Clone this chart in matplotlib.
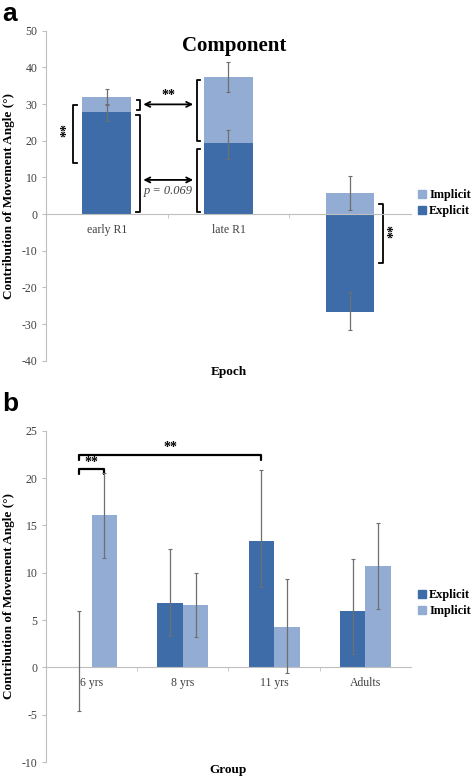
import numpy as np
import matplotlib
matplotlib.use('Agg')
import matplotlib.pyplot as plt
from matplotlib.patches import Patch

plt.rcParams['font.family'] = ['Liberation Serif', 'DejaVu Serif']
plt.rcParams['axes.unicode_minus'] = False

dark = '#3d6ca8'
light = '#93acd4'
grey = '#bfbfbf'
tick_col = '#404040'

# panel a: stacked components per epoch
epochs = ['early R1', 'late R1', 'R2']
explicit_a = [27.7, 19.3, -26.7]
implicit_a = [4.1, 18.1, 5.7]
explicit_a_err = [(25.3, 30.0), (15.0, 23.0), (-31.5, -21.3)]
total_a_err = [(29.6, 34.0), (33.3, 41.4), (1.0, 10.5)]

# panel b: components per age group
groups = ['6 yrs', '8 yrs', '11 yrs', 'Adults']
explicit_b = [-0.1, 6.76, 13.38, 5.95]
implicit_b = [16.05, 6.55, 4.3, 10.7]
explicit_b_err = [(-4.6, 6.0), (3.35, 12.5), (8.45, 20.8), (1.41, 11.45)]
implicit_b_err = [(11.5, 20.5), (3.17, 9.97), (-0.6, 9.3), (6.17, 15.2)]

fig = plt.figure(figsize=(4.74, 7.79), dpi=100)


def style_axes(ax, labels, ymin, ymax, step):
    for s in ['top', 'right']:
        ax.spines[s].set_visible(False)
    ax.spines['left'].set_color(grey)
    ax.spines['bottom'].set_color(grey)
    ax.spines['bottom'].set_position(('data', 0))
    ax.set_ylim(ymin, ymax)
    ax.set_yticks(np.arange(ymin, ymax + 1, step))
    ax.set_xlim(-0.5, len(labels) - 0.5)
    ax.set_xticks(range(len(labels)))
    ax.set_xticklabels(labels, fontsize=8.5, color=tick_col)
    ax.set_xticks(np.arange(0.5, len(labels) - 0.5, 1), minor=True)
    ax.tick_params(axis='x', which='major', length=0, pad=7)
    ax.tick_params(axis='x', which='minor', length=3, color=grey, direction='out')
    ax.tick_params(axis='y', length=3, color=grey, labelsize=8.5, labelcolor=tick_col, pad=3)
    ax.set_ylabel('Contribution of Movement Angle (°)', fontsize=9.5, fontweight='bold', labelpad=5)


def err_line(ax, x, lo, hi):
    ax.errorbar([x], [(lo + hi) / 2], yerr=[[(hi - lo) / 2], [(hi - lo) / 2]],
                fmt='none', ecolor='#6f6f6f', elinewidth=0.9, capsize=1.2, capthick=0.8, zorder=4)


def vbracket(ax, x, y0, y1, side, w=0.03):
    # side = +1 opens right "[", -1 opens left "]"
    ax.plot([x + side * w, x, x, x + side * w], [y0, y0, y1, y1], color='black', lw=1.3,
            solid_joinstyle='round', clip_on=False)


def stars(ax, x, y, rot=0):
    ax.text(x, y, '**', rotation=rot, ha='center', va='center', fontsize=10, fontweight='bold')


# ---------- panel a ----------
ax1 = fig.add_axes([0.097, 0.537, 0.770, 0.4236])
xa = np.arange(len(epochs))
wa = 0.4
ax1.bar(xa, explicit_a, wa, color=dark, zorder=2)
bottoms = [max(e, 0) for e in explicit_a]
ax1.bar(xa, implicit_a, wa, bottom=bottoms, color=light, zorder=2)
for i in range(len(epochs)):
    err_line(ax1, xa[i], *total_a_err[i])
    err_line(ax1, xa[i], *explicit_a_err[i])
style_axes(ax1, epochs, -40, 50, 10)
ax1.set_xlabel('Epoch', fontsize=9.5, fontweight='bold')
ax1.xaxis.set_label_coords(0.5, -0.015)
ax1.text(0.515, 0.985, 'Component', transform=ax1.transAxes, ha='center', va='top',
         fontsize=15, fontweight='bold')

tops = [b + v for b, v in zip(bottoms, implicit_a)]
# early R1: explicit vs implicit
vbracket(ax1, -0.276, explicit_a[0] / 2, bottoms[0] + implicit_a[0] / 2, +1)
stars(ax1, -0.33, 23, 90)
# brackets right of early R1
vbracket(ax1, 0.272, bottoms[0] + 0.8, tops[0] - 0.7, -1, w=0.025)
vbracket(ax1, 0.272, 0.5, explicit_a[0] - 0.7, -1)
# brackets left of late R1
vbracket(ax1, 0.738, bottoms[1] + 0.5, tops[1] - 0.9, +1)
vbracket(ax1, 0.738, 0.5, explicit_a[1] - 1.7, +1)
for y in [29.9, 9.3]:
    ax1.annotate('', xy=(0.71, y), xytext=(0.30, y),
                 arrowprops=dict(arrowstyle='<->', color='black', lw=1.3,
                                 mutation_scale=9, shrinkA=0, shrinkB=0))
stars(ax1, 0.505, 32.3)
ax1.text(0.505, 6.3, 'p = 0.069', ha='center', va='center', fontsize=9, color=tick_col,
         fontstyle='italic')
# R2: explicit vs implicit
vbracket(ax1, 2.27, implicit_a[2] / 2, explicit_a[2] / 2, -1)
stars(ax1, 2.36, -4.5, 90)

ax1.legend(handles=[Patch(color=light, label='Implicit'), Patch(color=dark, label='Explicit')],
           loc='center left', bbox_to_anchor=(1.02, 0.477), frameon=False,
           prop={'weight': 'bold', 'size': 8.8}, handlelength=0.6, handleheight=0.6,
           handletextpad=0.3, borderaxespad=0, borderpad=0, labelspacing=0.35)

# ---------- panel b ----------
ax2 = fig.add_axes([0.097, 0.0218, 0.770, 0.4253])
xb = np.arange(len(groups))
wb = 0.28
ax2.bar(xb - wb / 2, explicit_b, wb, color=dark, zorder=2)
ax2.bar(xb + wb / 2, implicit_b, wb, color=light, zorder=2)
for i in range(len(groups)):
    err_line(ax2, xb[i] - wb / 2, *explicit_b_err[i])
    err_line(ax2, xb[i] + wb / 2, *implicit_b_err[i])
style_axes(ax2, groups, -10, 25, 5)
ax2.set_xlabel('Group', fontsize=9.5, fontweight='bold')
ax2.xaxis.set_label_coords(0.5, -0.005)


def hbracket(ax, x0, x1, y, h=0.5):
    ax.plot([x0, x0, x1, x1], [y - h, y, y, y - h], color='black', lw=1.6,
            solid_joinstyle='round', solid_capstyle='round')


hbracket(ax2, xb[0] - wb / 2, xb[0] + wb / 2, 20.95)
stars(ax2, xb[0], 21.65)
hbracket(ax2, xb[0] - wb / 2, xb[2] - wb / 2, 22.4)
stars(ax2, (xb[0] + xb[2]) / 2 - wb / 2, 23.2)

ax2.legend(handles=[Patch(color=dark, label='Explicit'), Patch(color=light, label='Implicit')],
           loc='center left', bbox_to_anchor=(1.02, 0.479), frameon=False,
           prop={'weight': 'bold', 'size': 8.8}, handlelength=0.6, handleheight=0.6,
           handletextpad=0.3, borderaxespad=0, borderpad=0, labelspacing=0.35)

# panel letters
fig.text(0.005, 0.998, 'a', fontsize=19, fontweight='bold', family='Liberation Sans', va='top')
fig.text(0.005, 0.497, 'b', fontsize=19, fontweight='bold', family='Liberation Sans', va='top')

fig.savefig('out.png', dpi=100)
